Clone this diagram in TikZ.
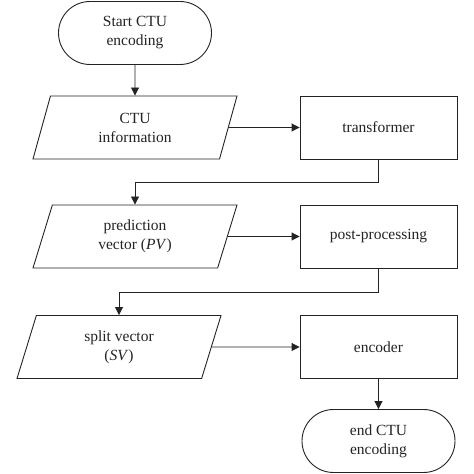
\documentclass[tikz,border=0pt]{standalone}
\usepackage{fontspec}
\setmainfont{Liberation Serif}
\usepackage{tikz}
\usetikzlibrary{arrows.meta, shapes.geometric, shapes.misc}
\definecolor{flowink}{RGB}{35, 35, 35}

\tikzset{
  term/.style={rounded rectangle, draw=flowink, line width=0.9pt,
    minimum width=157pt, minimum height=63pt, align=center, inner sep=2pt},
  iobox/.style={trapezium, trapezium left angle=62.4, trapezium right angle=117.6,
    trapezium stretches body, draw=flowink, line width=0.9pt,
    minimum width=204pt, minimum height=63pt, align=center, inner sep=2pt},
  procbox/.style={rectangle, draw=flowink, line width=0.9pt,
    minimum width=157pt, minimum height=63pt, align=center},
  flow/.style={-{Triangle[length=8pt, width=8pt]}, draw=flowink, line width=0.9pt}
}

\begin{document}
\begin{tikzpicture}[x=1pt, y=1pt, font=\fontsize{15.5}{19}\selectfont, text=flowink]
    \useasboundingbox (0,0) rectangle (474,474);

    % Start and end
    \node[term] (start) at (135, 441) {Start CTU\\encoding};
    \node[term] (stop) at (378.5, 33) {end CTU\\encoding};

    % Inputs
    \node[iobox] (info) at (135, 346.5) {CTU\\information};
    \node[iobox] (pv) at (135, 237.5) {prediction\\vector (\textit{PV})};
    \node[iobox] (sv) at (119, 127) {split vector\\(\textit{SV})};

    % Processing
    \node[procbox] (trans) at (378.5, 346.5) {transformer};
    \node[procbox] (post) at (378.5, 237.5) {post-processing};
    \node[procbox] (enc) at (378.5, 127) {encoder};

    % Connectors
    \draw[flow] (start) -- (info);
    \foreach \a/\b in {info/trans, pv/post, sv/enc} {
        \draw[flow] (\a.east) -- (\b.west);
    }
    \draw[flow] (trans.south) -- ++(0,-23) -| (pv.north);
    \draw[flow] (post.south) -- ++(0,-24) -| (sv.north);
    \draw[flow] (enc) -- (stop);
\end{tikzpicture}
\end{document}
